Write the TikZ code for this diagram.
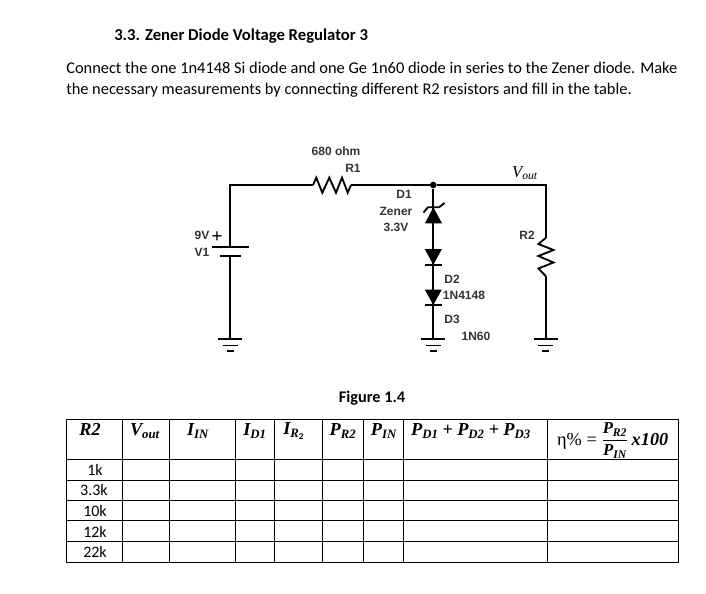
\documentclass[tikz,border=0pt]{standalone}
\usepackage{fontspec}
\usepackage{amsmath}
\setmainfont{Carlito}
\newfontfamily\circfont{Liberation Sans}
\newfontfamily\tabfont{Liberation Serif}
\usetikzlibrary{positioning}

\newcommand{\qty}[2]{{\tabfont\bfseries\itshape #1\textsubscript{#2}}}

\tikzset{
  wire/.style={line width=1.4pt,line join=miter},
  grid/.style={line width=.8pt},
  body/.style={anchor=west,inner sep=0pt,font=\fontsize{12.3}{12}\selectfont},
  title/.style={anchor=west,inner sep=0pt,font=\bfseries\fontsize{12.5}{12}\selectfont},
  part/.style={inner sep=0pt,text=black!80,font=\circfont\bfseries\fontsize{9}{9}\selectfont},
  head/.style={inner sep=0pt,font=\fontsize{13.7}{14}\selectfont},
  rowname/.style={inner sep=0pt,font=\fontsize{12}{12}\selectfont},
  ground/.pic={
    \draw [wire] (-12,0) -- (12,0);
    \draw [line width=1.1pt] (-7.5,6) -- (7.5,6);
    \draw [line width=1.1pt] (-3.5,11.5) -- (3.5,11.5);
  },
  diode/.pic={
    \fill (-8.5,-15.5) -- (8.5,-15.5) -- (0,0) -- cycle;
    \draw [wire] (-8.5,0) -- (8.5,0);
  },
}

\begin{document}
\begin{tikzpicture}[x=.75pt,y=-.75pt]
  \useasboundingbox (0,0) rectangle (706,593);

  % text above the circuit
  \node (heading) [title] at (114,36) {3.3. Zener Diode Voltage Regulator 3};
  \node (line1)   [body]  at (66,68)  {Connect the one 1n4148 Si diode and one Ge 1n60 diode in series to the Zener diode. Make};
  \node (line2)   [body]  at (66,90)  {the necessary measurements by connecting different R2 resistors and fill in the table.};

  % circuit points
  \coordinate (corner)  at (230,185);
  \coordinate (r1a)     at (313,185);
  \coordinate (r1b)     at (351,185);
  \coordinate (corner2) at (545.7,185);
  \coordinate (r2a)     at (545.7,238);
  \coordinate (r2b)     at (545.7,276);
  \coordinate (bat1)    at (230,247.3);
  \coordinate (bat2)    at (230,255.7);
  \coordinate (gnd1)    at (230,339.3);
  \coordinate (gnd2)    at (433.3,339.3);
  \coordinate (gnd3)    at (545.7,339.3);
  \coordinate (d2k)     at (433.3,264.7);
  \coordinate (d3k)     at (433.3,305);
  \node (top) [circle,fill,inner sep=0pt,minimum size=5pt] at (433.3,185) {};

  \draw [wire] (bat1) -- (corner) -- (r1a);
  \draw [wire] (r1a) -- ++(3.3,-7.3) -- ++(6,15) -- ++(7,-15) -- ++(6.7,15) -- ++(6,-15) -- ++(5.7,15) -- (r1b);
  \draw [wire] (r1b) -- (top) -- (corner2) -- (r2a);
  \draw [wire] (r2a) -- ++(-7.3,6) -- ++(15,6) -- ++(-15,6) -- ++(15,6.5) -- ++(-15,6) -- (r2b);
  \draw [wire] (r2b) -- (gnd3);
  \draw [wire] (bat2) -- (gnd1);
  \draw [wire] (top) -- (gnd2);

  % battery plates
  \draw [wire] (212,247.3) -- (249,247.3);
  \draw [wire] (220,255.7) -- (241,255.7);

  % zener
  \fill (425,223.3) -- (442,223.3) -- (433.3,207.3) -- cycle;
  \draw [wire] (423.5,212.5) -- (428,207.3) -- (439,207.3) -- (444.5,203);

  \pic at (d2k) {diode};
  \pic at (d3k) {diode};
  \pic at (gnd1) {ground};
  \pic at (gnd2) {ground};
  \pic at (gnd3) {ground};

  % circuit labels
  \node (r1val)   [part] at (336,151) {680 ohm};
  \node (r1name)  [part] at (353,168) {R1};
  \node (d1name)  [part] at (404,194) {D1};
  \node (d1type)  [part] at (396,211) {Zener};
  \node (d1volt)  [part] at (396,227) {3.3V};
  \node (d2name)  [part] at (452,279) {D2};
  \node (d2type)  [part] at (464,295) {1N4148};
  \node (d3name)  [part] at (452,319) {D3};
  \node (d3type)  [part] at (476,336) {1N60};
  \node (r2name)  [part] at (527,235) {R2};
  \node (v1val)   [part] at (202,235) {9V};
  \node (v1name)  [part] at (202,252) {V1};
  \node (plus)    [inner sep=0pt,font=\circfont\fontsize{14}{14}\selectfont] at (217,237) {+};
  \node (vout)    [inner sep=0pt,font=\tabfont\itshape\fontsize{12.5}{12}\selectfont] at (525,173) {V\textsubscript{out}};

  \node (figure)  [inner sep=0pt,font=\bfseries\fontsize{12.2}{12}\selectfont] at (372,398) {Figure 1.4};

  % table
  \path [draw,grid]
    (66.3,419.3) rectangle (678.3,562.7)
    (66.3,459.3) -- (678.3,459.3)
    (66.3,480.3) -- (678.3,480.3)
    (66.3,500.3) -- (678.3,500.3)
    (66.3,520.7) -- (678.3,520.7)
    (66.3,541.3) -- (678.3,541.3)
    (122.3,419.3) -- (122.3,562.7)
    (169.3,419.3) -- (169.3,562.7)
    (235.7,419.3) -- (235.7,562.7)
    (274.7,419.3) -- (274.7,562.7)
    (322.7,419.3) -- (322.7,562.7)
    (363.3,419.3) -- (363.3,562.7)
    (403.3,419.3) -- (403.3,562.7)
    (547.3,419.3) -- (547.3,562.7);

  \node (hr2)   [head] at (90,429)  {\tabfont\bfseries\itshape R2};
  \node (hvout) [head] at (145,431) {\qty{V}{out}};
  \node (hiin)  [head] at (198,431) {\qty{I}{IN}};
  \node (hid1)  [head] at (255,431) {\qty{I}{D1}};
  \node (hir2)  [head] at (294,431) {\qty{I}{R$_{\mathbf{2}}$}};
  \node (hpr2)  [head] at (343,431) {\qty{P}{R2}};
  \node (hpin)  [head] at (384,431) {\qty{P}{IN}};
  \node (hsum)  [head] at (471,431) {\qty{P}{D1} {\tabfont\bfseries +} \qty{P}{D2} {\tabfont\bfseries +} \qty{P}{D3}};
  \node (heta)  [head] at (577,441) {\tabfont η\% =};
  \node (hfrac) [head,font=\fontsize{12.5}{13}\selectfont] at (615,440.5) {$\dfrac{\mbox{\qty{P}{R2}}}{\mbox{\qty{P}{IN}}}$};
  \node (hx)    [head] at (650,440) {\tabfont\bfseries\itshape x100};

  \node (row1)  [rowname] at (95,470) {1k};
  \node (row2)  [rowname] at (94,490) {3.3k};
  \node (row3)  [rowname] at (95,511) {10k};
  \node (row4)  [rowname] at (95,532) {12k};
  \node (row5)  [rowname] at (95,552) {22k};
\end{tikzpicture}
\end{document}
